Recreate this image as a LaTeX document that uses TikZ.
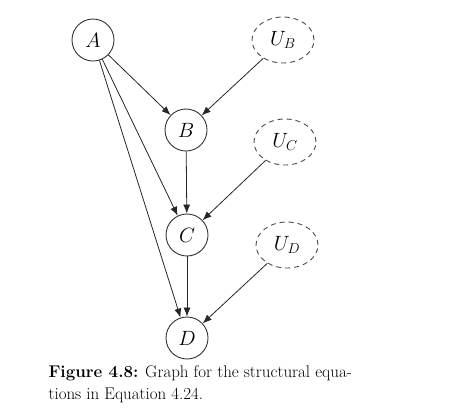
\documentclass[tikz,border=0pt]{standalone}
\usetikzlibrary{arrows.meta,shapes.geometric}
\begin{document}
\begin{tikzpicture}[x=1bp, y=-1bp,
        var/.style={draw=black!80, line width=0.9bp, circle, minimum size=42bp, inner sep=0pt, font=\fontsize{20}{22}\selectfont},
        noise/.style={draw=black!70, line width=0.9bp, ellipse, dash pattern=on 5bp off 4bp, minimum width=62bp, minimum height=46bp, inner sep=0pt, font=\fontsize{20}{22}\selectfont},
        edge/.style={-{Latex[length=9bp, width=7bp]}, black!85, line width=0.8bp}]
        \useasboundingbox (0, 0) rectangle (474, 413);
        % observed variables
        \node[var] (A) at (93, 40) {$A$};
        \node[var] (B) at (186, 130) {$B$};
        \node[var] (C) at (187, 235) {$C$};
        \node[var] (D) at (187, 338) {$D$};
        % exogenous noise
        \node[noise] (UB) at (283, 40) {$U_B$};
        \node[noise] (UC) at (285, 142) {$U_C$};
        \node[noise] (UD) at (287, 245) {$U_D$};
        \draw[edge] (A) -- (B);
        \draw[edge] (A) -- (C);
        \draw[edge] (A) -- (D);
        \draw[edge] (B) -- (C);
        \draw[edge] (C) -- (D);
        \draw[edge] (UB) -- (B);
        \draw[edge] (UC) -- (C);
        \draw[edge] (UD) -- (D);
        % caption
        \node[anchor=base west, align=left, font=\fontsize{17}{22}\selectfont] (cap) at (45, 399)
            {\textbf{Figure 4.8:} Graph for the structural equa-\\tions in Equation 4.24.};
    \end{tikzpicture}
\end{document}
